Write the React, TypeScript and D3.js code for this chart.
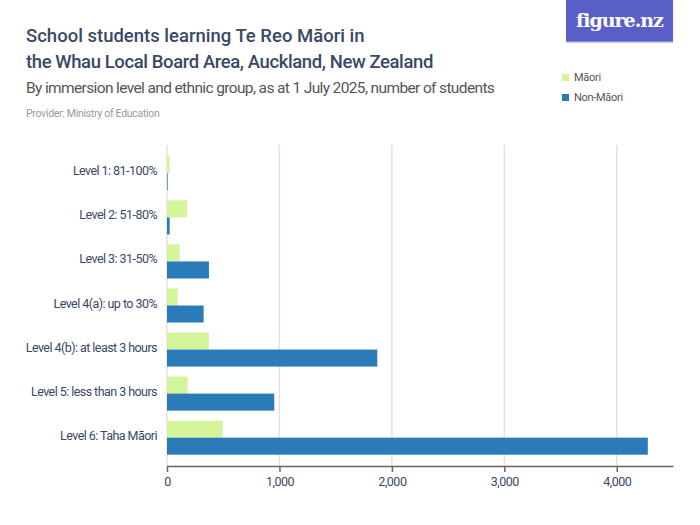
import React, { useRef, useEffect } from "react";
import * as d3 from "d3";

const categories = [
  "Level 1: 81-100%",
  "Level 2: 51-80%",
  "Level 3: 31-50%",
  "Level 4(a): up to 30%",
  "Level 4(b): at least 3 hours",
  "Level 5: less than 3 hours",
  "Level 6: Taha Māori",
];
const seriesNames = ["Māori", "Non-Māori"];
const maoriValues = [24, 178, 113, 95, 373, 183, 495];
const nonMaoriValues = [6, 24, 373, 326, 1870, 954, 4276];
const xTicks = [0, 1000, 2000, 3000, 4000];

const colors = ["#d4f59a", "#2a7bb8"];
const font = "Roboto, 'Noto Sans', sans-serif";

const App = () => {
  const svgRef = useRef<SVGSVGElement>(null);

  useEffect(() => {
    const svg = d3.select(svgRef.current);
    svg.selectAll("*").remove();

    const width = 700;
    const height = 525;
    const margin = { top: 145, right: 27, bottom: 59, left: 167 };

    svg.attr("width", width).attr("height", height);

    // header
    svg.append("text")
      .attr("x", 26).attr("y", 42)
      .attr("fill", "#3a4866")
      .style("font-family", font).style("font-size", "18.5px").style("font-weight", 500)
      .style("letter-spacing", "0px")
      .text("School students learning Te Reo Māori in");
    svg.append("text")
      .attr("x", 26).attr("y", 68)
      .attr("fill", "#3a4866")
      .style("font-family", font).style("font-size", "18.5px").style("font-weight", 500)
      .style("letter-spacing", "-0.4px")
      .text("the Whau Local Board Area, Auckland, New Zealand");
    svg.append("text")
      .attr("x", 26).attr("y", 93)
      .attr("fill", "#555")
      .style("font-family", font).style("font-size", "15.5px")
      .style("letter-spacing", "-0.63px")
      .text("By immersion level and ethnic group, as at 1 July 2025, number of students");
    svg.append("text")
      .attr("x", 26).attr("y", 117)
      .attr("fill", "#999")
      .style("font-family", font).style("font-size", "10.5px")
      .style("letter-spacing", "-0.3px")
      .text("Provider: Ministry of Education");

    // logo
    svg.append("rect")
      .attr("x", 566).attr("y", 0).attr("width", 107).attr("height", 42)
      .attr("fill", "#5a5fc8");
    svg.append("rect")
      .attr("x", 566).attr("y", 41).attr("width", 107).attr("height", 1.5)
      .attr("fill", "#8f93dd");
    svg.append("text")
      .attr("x", 619.5).attr("y", 27)
      .attr("text-anchor", "middle")
      .attr("fill", "#fff")
      .style("font-family", "'DejaVu Serif', serif").style("font-size", "19px")
      .style("font-weight", 600)
      .style("letter-spacing", "-1px")
      .text("figure.nz");

    // legend
    seriesNames.forEach((name, i) => {
      svg.append("rect")
        .attr("x", 562).attr("y", 74 + i * 20).attr("width", 7).attr("height", 7)
        .attr("fill", colors[i]);
      svg.append("text")
        .attr("x", 574).attr("y", 81 + i * 20)
        .attr("fill", "#555")
        .style("font-family", font).style("font-size", "11px")
        .style("letter-spacing", "-0.3px")
        .text(name);
    });

    const x = d3.scaleLinear()
      .domain([0, 4500])
      .range([margin.left, width - margin.right]);

    const y = d3.scaleBand()
      .domain(categories)
      .range([margin.top, height - margin.bottom])
      .paddingInner(0.227)
      .paddingOuter(0.257);

    const sub = d3.scaleBand()
      .domain(seriesNames)
      .range([0, y.bandwidth()]);

    // gridlines
    svg.append("g")
      .selectAll("line")
      .data(xTicks)
      .join("line")
      .attr("x1", d => x(d)).attr("x2", d => x(d))
      .attr("y1", margin.top).attr("y2", height - margin.bottom)
      .attr("stroke", "#e2e2e2")
      .attr("stroke-width", 1.5);

    const rows = categories.map((c, i) => ({ c, vals: [maoriValues[i], nonMaoriValues[i]] }));

    const g = svg.append("g")
      .selectAll("g")
      .data(rows)
      .join("g")
      .attr("transform", d => `translate(0,${y(d.c)})`);

    g.selectAll("rect")
      .data(d => d.vals.map((v, i) => ({ v, s: seriesNames[i], i })))
      .join("rect")
      .attr("x", x(0))
      .attr("y", d => sub(d.s))
      .attr("width", d => x(d.v) - x(0))
      .attr("height", sub.bandwidth())
      .attr("fill", d => colors[d.i]);

    // category labels
    svg.append("g")
      .selectAll("text")
      .data(categories)
      .join("text")
      .attr("x", margin.left - 10)
      .attr("y", d => y(d) + y.bandwidth() / 2 + 2)
      .attr("text-anchor", "end")
      .attr("fill", "#3a4866")
      .style("font-family", font)
      .style("font-size", "12.5px")
      .style("letter-spacing", "-0.55px")
      .text(d => d);

    // x axis
    const axis = svg.append("g")
      .attr("transform", `translate(0,${height - margin.bottom})`)
      .call(d3.axisBottom(x).tickValues(xTicks).tickSize(6).tickSizeOuter(0).tickFormat(d3.format(",")));
    axis.select(".domain").attr("stroke", "#666").attr("stroke-width", 1.5);
    axis.selectAll(".tick line").attr("stroke", "#666").attr("stroke-width", 1.5);
    axis.selectAll(".tick text")
      .attr("fill", "#3a4866")
      .attr("dy", "0.85em")
      .style("font-family", font)
      .style("font-size", "12.5px")
      .style("letter-spacing", "-0.5px");
  }, []);

  return <svg ref={svgRef} style={{ position: "absolute", left: 0, top: 0 }} />;
};

export default App;
